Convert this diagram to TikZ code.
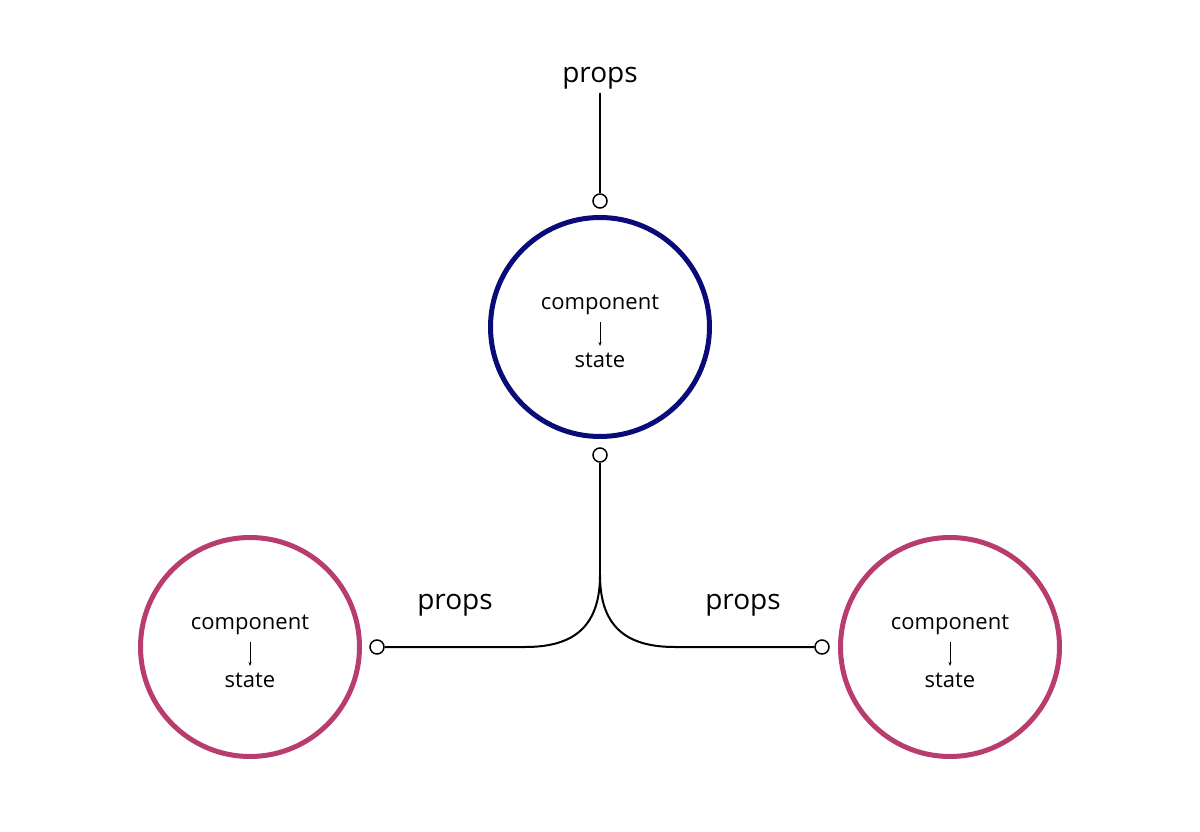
\documentclass[tikz,border=0pt]{standalone}
\usepackage{fontspec}
\setmainfont{Open Sans}
\usetikzlibrary{arrows.meta}
\definecolor{navy}{RGB}{10,10,120}
\definecolor{rose}{RGB}{184,60,110}
\begin{document}
\begin{tikzpicture}[x=1pt,y=-1pt,
  comp/.style={circle,line width=5pt,minimum size=219pt,inner sep=0pt},
  port/.style={circle,draw,line width=1.5pt,fill=white,minimum size=14pt,inner sep=0pt},
  wire/.style={line width=2pt},
  lbl/.style={font=\fontsize{28}{30}\selectfont},
  ctext/.style={font=\fontsize{22}{24}\selectfont}]
\useasboundingbox (0,0) rectangle (1200,832);
\node[comp,draw=navy] (top) at (600,327) {};
\node[comp,draw=rose] (left) at (250,647) {};
\node[comp,draw=rose] (right) at (950,647) {};
\foreach \n/\x/\y in {top/600/327,left/250/647,right/950/647}{
  \node[ctext] (\n c) at (\x,\y-22) {component};
  \node[ctext] (\n s) at (\x,\y+33) {state};
  \draw[-{Stealth[length=4pt,width=3pt]},line width=0.5pt] (\x,\y-5) -- (\x,\y+19);
}
\node[lbl] (p1) at (600,78) {props};
\node[lbl] (p2) at (455,605) {props};
\node[lbl] (p3) at (743,605) {props};
\node[port] (a) at (600,201) {};
\node[port] (b) at (600,455) {};
\node[port] (c) at (377,647) {};
\node[port] (d) at (822,647) {};
\coordinate (j) at (600,575);
\draw[wire] (p1.south) -- (a.north);
\draw[wire] (b.south) -- (j);
\draw[wire] (j) .. controls (600,630) and (570,647) .. (525,647) -- (c.east);
\draw[wire] (j) .. controls (600,630) and (630,647) .. (675,647) -- (d.west);
\end{tikzpicture}
\end{document}
